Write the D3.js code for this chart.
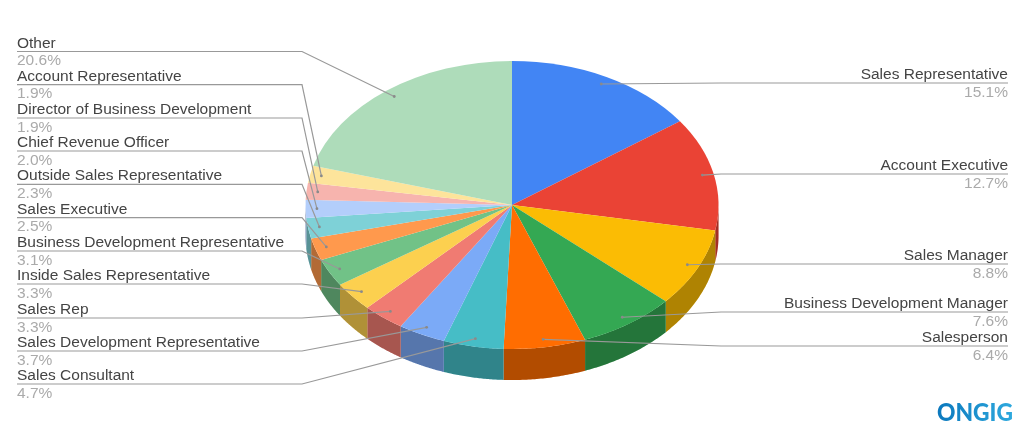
<!DOCTYPE html>
<html><head><meta charset="utf-8">
<script src="https://cdn.jsdelivr.net/npm/d3@7"></script>
<style>html,body{margin:0;background:#fff;overflow:hidden}svg{display:block;filter:blur(.35px)}text{font-family:"Liberation Sans",Arial,sans-serif}</style>
</head><body><svg id="c" width="1024" height="433"></svg>
<script>
const categories=["Sales Representative","Account Executive","Sales Manager","Business Development Manager","Salesperson","Sales Consultant","Sales Development Representative","Sales Rep","Inside Sales Representative","Business Development Representative","Sales Executive","Outside Sales Representative","Chief Revenue Officer","Director of Business Development","Account Representative","Other"];
const shares=[15.1,12.7,8.8,7.6,6.4,4.7,3.7,3.3,3.3,3.1,2.5,2.3,2.0,1.9,1.9,20.6];
const colors=["#4285f4","#ea4335","#fbbc04","#34a853","#ff6d01","#46bdc6","#7baaf7","#f07b72","#fcd04f","#71c287","#ff994d","#7ed1d7","#b3cefb","#f7b4ae","#fde49b","#aedcba"];
const rightLabels=categories.slice(0,5);
const rightLineY=[83,174,264,312,346];
const leftLabels=categories.slice(5).reverse();
const leftLineY=[51.5,84.7,118,151,184.3,217.6,251,284,318,351,384];

const cx=512,cy=205,rx=206.5,ry=144,depth=31,anchor=.945;
const svg=d3.select("#c");
const arcs=d3.pie().sort(null).value(d=>d)(shares);
const px=(a,r=1)=>cx+rx*r*Math.sin(a), py=(a,r=1)=>cy-ry*r*Math.cos(a);

const wall=svg.append("g");
arcs.forEach((d,i)=>{
  const a0=Math.max(d.startAngle,Math.PI/2),a1=Math.min(d.endAngle,Math.PI*1.5);
  if(a1<=a0) return;
  const as=d3.range(0,41).map(k=>a0+(a1-a0)*k/40);
  const area=d3.area().x(a=>px(a)).y0(a=>py(a)).y1(a=>py(a)+depth);
  wall.append("path").attr("d",area(as)).attr("fill",colors[i]);
  wall.append("path").attr("d",area(as)).attr("fill","#000").attr("fill-opacity",.3);
});
const arc=d3.arc().innerRadius(0).outerRadius(rx);
svg.append("g").attr("transform",`translate(${cx},${cy}) scale(1,${ry/rx})`)
  .selectAll("path").data(arcs).join("path").attr("d",arc).attr("fill",(d,i)=>colors[i]);

const line=d3.line();
const leaders=svg.append("g").attr("fill","none").attr("stroke","#999").attr("stroke-width",1.2);
const dots=svg.append("g").attr("fill","#8a8a8a");
const labels=svg.append("g").attr("font-size",15.5);
function label(name,val,x,y,anchorAttr,elbow,i){
  const m=(arcs[i].startAngle+arcs[i].endAngle)/2, ax=px(m,anchor), ay=py(m,anchor);
  leaders.append("path").attr("d",line([[x,y],[elbow,y],[ax,ay]]));
  dots.append("circle").attr("cx",ax).attr("cy",ay).attr("r",1.4);
  labels.append("text").attr("x",x).attr("y",y-4).attr("text-anchor",anchorAttr).attr("fill","#444").text(name);
  labels.append("text").attr("x",x).attr("y",y+13.5).attr("text-anchor",anchorAttr).attr("fill","#aaa").text(val.toFixed(1)+"%");
}
rightLabels.forEach((n,k)=>label(n,shares[categories.indexOf(n)],1008,rightLineY[k],"end",721,categories.indexOf(n)));
leftLabels.forEach((n,k)=>label(n,shares[categories.indexOf(n)],17,leftLineY[k],"start",302,categories.indexOf(n)));

const g=svg.append("defs").append("linearGradient").attr("id","lg");
g.append("stop").attr("offset",0).attr("stop-color","#0b78bd");
g.append("stop").attr("offset",1).attr("stop-color","#2ea9de");
svg.append("text").attr("x",937).attr("y",420.5).attr("font-size",24).attr("font-weight",900).attr("fill","url(#lg)")
  .attr("textLength",76).attr("lengthAdjust","spacingAndGlyphs").style("font-family","Lato").text("ONGIG");
</script></body></html>
